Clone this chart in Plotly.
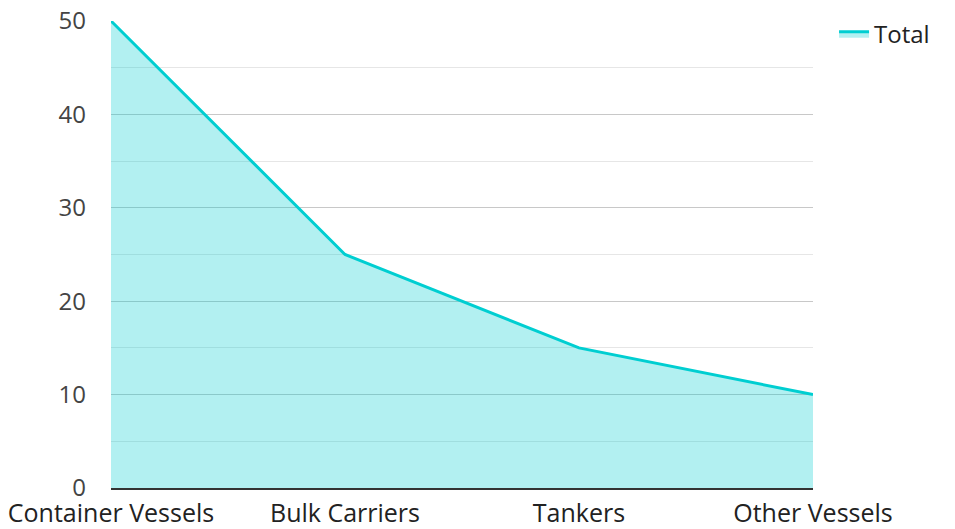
import plotly.graph_objects as go

categories = ["Container Vessels", "Bulk Carriers", "Tankers", "Other Vessels"]
values = [50, 25, 15, 10]
series_name = "Total"

fig = go.Figure()
fig.add_trace(go.Scatter(
    x=categories, y=values, name=series_name, mode="lines",
    line=dict(color="#00CED1", width=3),
    fill="tozeroy", fillcolor="rgba(0,206,209,0.3)",
))

fig.update_layout(
    width=955, height=529,
    margin=dict(l=111, r=142, t=21, b=41, autoexpand=False),
    paper_bgcolor="white", plot_bgcolor="white",
    font=dict(family="Open Sans", size=25, color="#333333"),
    showlegend=True,
    legend=dict(x=1.03, y=1.02, xanchor="left", yanchor="top",
                font=dict(size=24, color="#222222"), bgcolor="rgba(0,0,0,0)"),
    xaxis=dict(
        range=[0, 3], showgrid=False, showline=True, linecolor="#333333", linewidth=2,
        ticks="", tickfont=dict(size=25, color="#222222"), ticklabelstandoff=2,
        zeroline=False, automargin=False,
    ),
    yaxis=dict(
        range=[0, 50], dtick=10, showgrid=True, gridcolor="#c8c8c8", gridwidth=1,
        minor=dict(dtick=5, showgrid=True, gridcolor="#e6e6e6", gridwidth=1),
        zeroline=False, showline=False, ticks="",
        tickfont=dict(size=24, color="#444444"), ticklabelstandoff=24,
        automargin=False,
    ),
)

fig.write_html("out.html")
